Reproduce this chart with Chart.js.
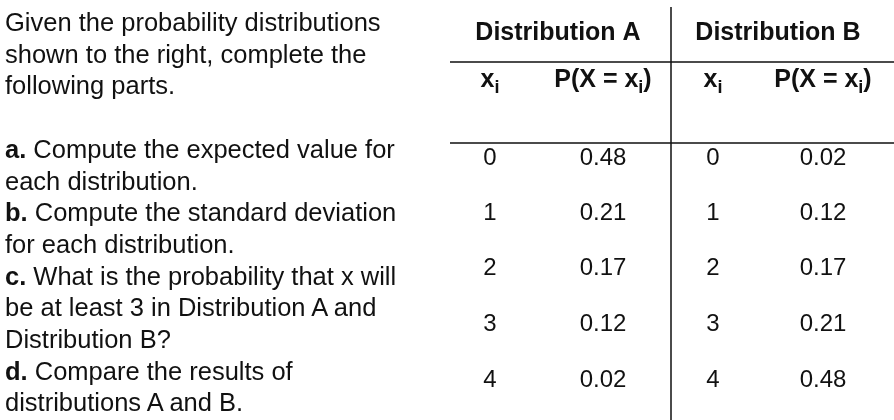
<!DOCTYPE html>
<html>
<head>
<meta charset="utf-8">
<script src="https://cdn.jsdelivr.net/npm/chart.js@4.4.0/dist/chart.umd.min.js"></script>
<style>
  html, body { margin: 0; padding: 0; background: #fff; }
  #wrap { position: relative; width: 894px; height: 420px; }
  #chart { position: absolute; left: 0; top: 0; }
  #text { position: absolute; left: 5px; top: 7px; font: 25.5px "Liberation Sans", Arial, sans-serif;
          line-height: 31.7px; color: #111; white-space: nowrap; }
</style>
</head>
<body>
<div id="wrap">
  <canvas id="chart" width="894" height="420"></canvas>
  <div id="text">
    Given the probability distributions<br>
    shown to the right, complete the<br>
    following parts.<br>
    <br>
    <b>a.</b> Compute the expected value for<br>
    each distribution.<br>
    <b>b.</b> Compute the standard deviation<br>
    for each distribution.<br>
    <b>c.</b> What is the probability that x will<br>
    be at least 3 in Distribution A and<br>
    Distribution B?<br>
    <b>d.</b> Compare the results of<br>
    distributions A and B.
  </div>
</div>
<script>
const groups = ['Distribution A', 'Distribution B'];
const xValuesA = [0, 1, 2, 3, 4];
const probsA = ['0.48', '0.21', '0.17', '0.12', '0.02'];
const xValuesB = [0, 1, 2, 3, 4];
const probsB = ['0.02', '0.12', '0.17', '0.21', '0.48'];

// layout in page pixels (scales run 0..894 and 0..420)
const colX = [490, 603, 713, 823];
const groupX = [558, 778];
const rowY = [158, 213, 268, 324, 380];

const FONT = '"Liberation Sans", Arial, sans-serif';

const tablePlugin = {
    id: 'table',
    afterDraw(chart) {
        const ctx = chart.ctx;
        const xs = chart.scales.x, ys = chart.scales.y;
        const px = v => xs.getPixelForValue(v);
        const py = v => ys.getPixelForValue(v);
        ctx.save();
        ctx.strokeStyle = '#111';
        ctx.lineWidth = 1.5;
        ctx.beginPath();
        ctx.moveTo(px(671), py(7)); ctx.lineTo(px(671), py(420));
        ctx.moveTo(px(450), py(62)); ctx.lineTo(px(894), py(62));
        ctx.moveTo(px(450), py(143)); ctx.lineTo(px(894), py(143));
        ctx.stroke();

        ctx.fillStyle = '#111';
        ctx.textAlign = 'center';
        ctx.textBaseline = 'middle';
        ctx.font = 'bold 25px ' + FONT;
        groups.forEach((g, i) => ctx.fillText(g, px(groupX[i]), py(33)));

        // sub headers with subscript i
        const big = 'bold 25px ' + FONT, small = 'bold 18px ' + FONT;
        const sub = (x, isP) => {
            const parts = isP ? [['P(X = x', big, 0], ['i', small, 8], [')', big, 0]]
                              : [['x', big, 0], ['i', small, 8]];
            let w = 0;
            parts.forEach(p => { ctx.font = p[1]; w += ctx.measureText(p[0]).width; });
            let cx = px(x) - w / 2;
            ctx.textAlign = 'left';
            parts.forEach(p => {
                ctx.font = p[1];
                ctx.fillText(p[0], cx, py(80 + p[2]));
                cx += ctx.measureText(p[0]).width;
            });
            ctx.textAlign = 'center';
        };
        sub(colX[0], false); sub(colX[1], true); sub(colX[2], false); sub(colX[3], true);

        ctx.font = '24px ' + FONT;
        rowY.forEach((y, r) => {
            ctx.fillText(String(xValuesA[r]), px(colX[0]), py(y));
            ctx.fillText(probsA[r], px(colX[1]), py(y));
            ctx.fillText(String(xValuesB[r]), px(colX[2]), py(y));
            ctx.fillText(probsB[r], px(colX[3]), py(y));
        });
        ctx.restore();
    }
};

new Chart(document.getElementById('chart').getContext('2d'), {
    type: 'scatter',
    data: { datasets: [{ data: [] }] },
    options: {
        responsive: false,
        animation: false,
        layout: { padding: 0 },
        plugins: { legend: { display: false }, tooltip: { enabled: false } },
        scales: {
            x: { type: 'linear', min: 0, max: 894, display: false },
            y: { type: 'linear', min: 0, max: 420, reverse: true, display: false }
        }
    },
    plugins: [tablePlugin]
});
</script>
</body>
</html>
